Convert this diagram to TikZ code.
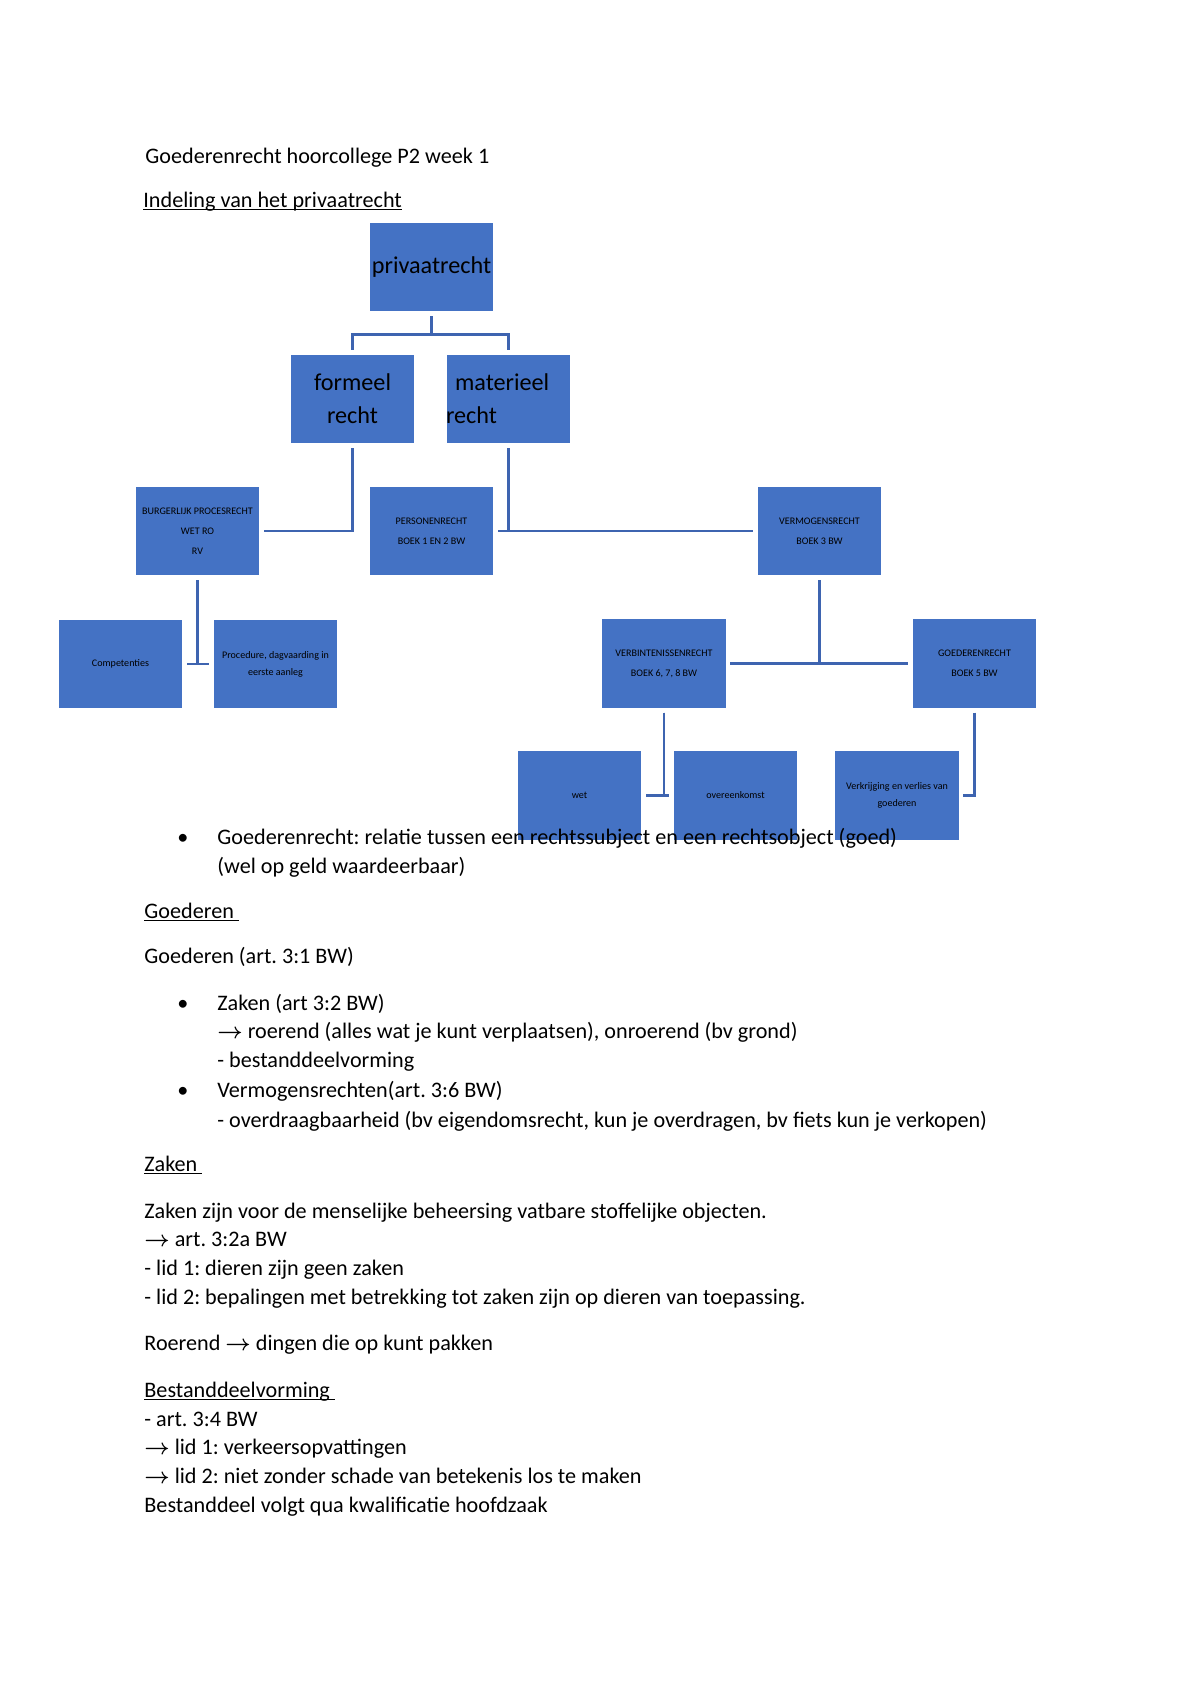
\documentclass[tikz,border=0pt]{standalone}
\usepackage{amsmath}
\usepackage{fontspec}
\setmainfont{Carlito}
\usepackage{tikz}
\usetikzlibrary{calc}
\usetikzlibrary{positioning}
\definecolor{boxblue}{RGB}{68,114,196}
\definecolor{lineblue}{RGB}{62,100,176}
\newcommand\wul[1]{\setbox0\hbox{#1}\rlap{\rule[-1.4pt]{\wd0}{0.6pt}}\box0}
\newcommand\rarr{$\boldsymbol{\rightarrow}$}
\frenchspacing

\begin{document}
\begin{tikzpicture}[x=0.4961pt,y=-0.4961pt,
    box/.style={fill=boxblue,draw=white,line width=0.6pt,minimum width=62pt,minimum height=44.6pt,inner sep=1pt,align=center},
    bigbox/.style={box,font=\fontsize{12}{16.4}\selectfont},
    capbox/.style={box,font=\fontsize{5}{10}\selectfont},
    smallbox/.style={box,font=\fontsize{5}{8.4}\selectfont},
    conn/.style={draw=lineblue,line width=1.4pt,shorten <=1.8pt,shorten >=1.6pt},
    txt/.style={anchor=base west,inner sep=0pt,font=\fontsize{11}{13}\selectfont}]
        \useasboundingbox[fill=white] (0,0) rectangle (1200,1698);
        % boxes
        \node[bigbox] (priv) at (431.5,267) {privaatrecht};
        \node[bigbox] (form) at (352.5,399) {formeel\\recht};
        \node[bigbox,align=left,text width=62pt,inner xsep=0pt] (mat) at (508.5,399) {\hspace*{4.5pt}materieel\\recht};
        \node[capbox] (burg) at (197.5,531) {BURGERLIJK PROCESRECHT\\WET RO\\RV};
        \node[capbox] (pers) at (431.5,531) {PERSONENRECHT\\BOEK 1 EN 2 BW};
        \node[capbox] (verm) at (819.5,531) {VERMOGENSRECHT\\BOEK 3 BW};
        \node[smallbox] (comp) at (120.5,664) {Competenties};
        \node[smallbox] (proc) at (275.5,664) {Procedure, dagvaarding in\\eerste aanleg};
        \node[capbox] (verb) at (664,663.5) {VERBINTENISSENRECHT\\BOEK 6, 7, 8 BW};
        \node[capbox] (goed) at (974.5,663.5) {GOEDERENRECHT\\BOEK 5 BW};
        \node[smallbox] (wet) at (579.5,795.5) {wet};
        \node[smallbox] (over) at (735.5,795.5) {overeenkomst};
        \node[smallbox] (verk) at (897,795.5) {Verkrijging en verlies van\\goederen};
        % connectors
        \draw[conn] (priv.south) -- ++(0,22) -| (form.north);
        \draw[conn] (priv.south) -- ++(0,22) -| (mat.north);
        \draw[conn] (form.south) |- (burg.east);
        \draw[conn] (mat.south) |- (pers.east);
        \draw[conn] (mat.south) |- (verm.west);
        \draw[conn] (burg.south) |- (comp.east);
        \draw[conn] (burg.south) |- (proc.west);
        \draw[conn] (verm.south) |- (verb.east);
        \draw[conn] (verm.south) |- (goed.west);
        \draw[conn] (verb.south) |- (wet.east);
        \draw[conn] (verb.south) |- (over.west);
        \draw[conn] (goed.south) |- (verk.east);
        % text
        \node[txt] (title) at (145,163) {Goederenrecht hoorcollege P2 week 1};
        \node[txt] (kop1) at (143,207) {\wul{Indeling van het privaatrecht}};
        \foreach \n/\y in {b1/844,b2/1010,b3/1097}
          \node[txt,anchor=base] (\n) at (183,\y) {\textbullet};
        \foreach \n/\x/\y/\t in {
            l1/217/844/{Goederenrecht: relatie tussen een rechtssubject en een rechtsobject (goed)},
            l2/217/873/{(wel op geld waardeerbaar)},
            l3/144/918/{\wul{Goederen\ }},
            l4/144/963/{Goederen (art. 3:1 BW)},
            l5/217/1010/{Zaken (art 3:2 BW)},
            l6/217/1038/{\rarr{} roerend (alles wat je kunt verplaatsen), onroerend (bv grond)},
            l7/217/1067/{- bestanddeelvorming},
            l8/217/1097/{Vermogensrechten(art. 3:6 BW)},
            l9/217/1127/{- overdraagbaarheid (bv eigendomsrecht, kun je overdragen, bv fiets kun je verkopen)},
            l10/144/1171/{\wul{Zaken\ }},
            l11/144/1218/{Zaken zijn voor de menselijke beheersing vatbare stoffelijke objecten.},
            l12/144/1246/{\rarr{} art. 3:2a BW},
            l13/144/1275/{- lid 1: dieren zijn geen zaken},
            l14/144/1304/{- lid 2: bepalingen met betrekking tot zaken zijn op dieren van toepassing.},
            l15/144/1350/{Roerend \rarr{} dingen die op kunt pakken},
            l16/144/1397/{\wul{Bestanddeelvorming\ }},
            l17/144/1426/{- art. 3:4 BW},
            l18/144/1454/{\rarr{} lid 1: verkeersopvattingen},
            l19/144/1483/{\rarr{} lid 2: niet zonder schade van betekenis los te maken},
            l20/144/1512/{Bestanddeel volgt qua kwalificatie hoofdzaak}}
          \node[txt] (\n) at (\x,\y) {\t};
\end{tikzpicture}
\end{document}
